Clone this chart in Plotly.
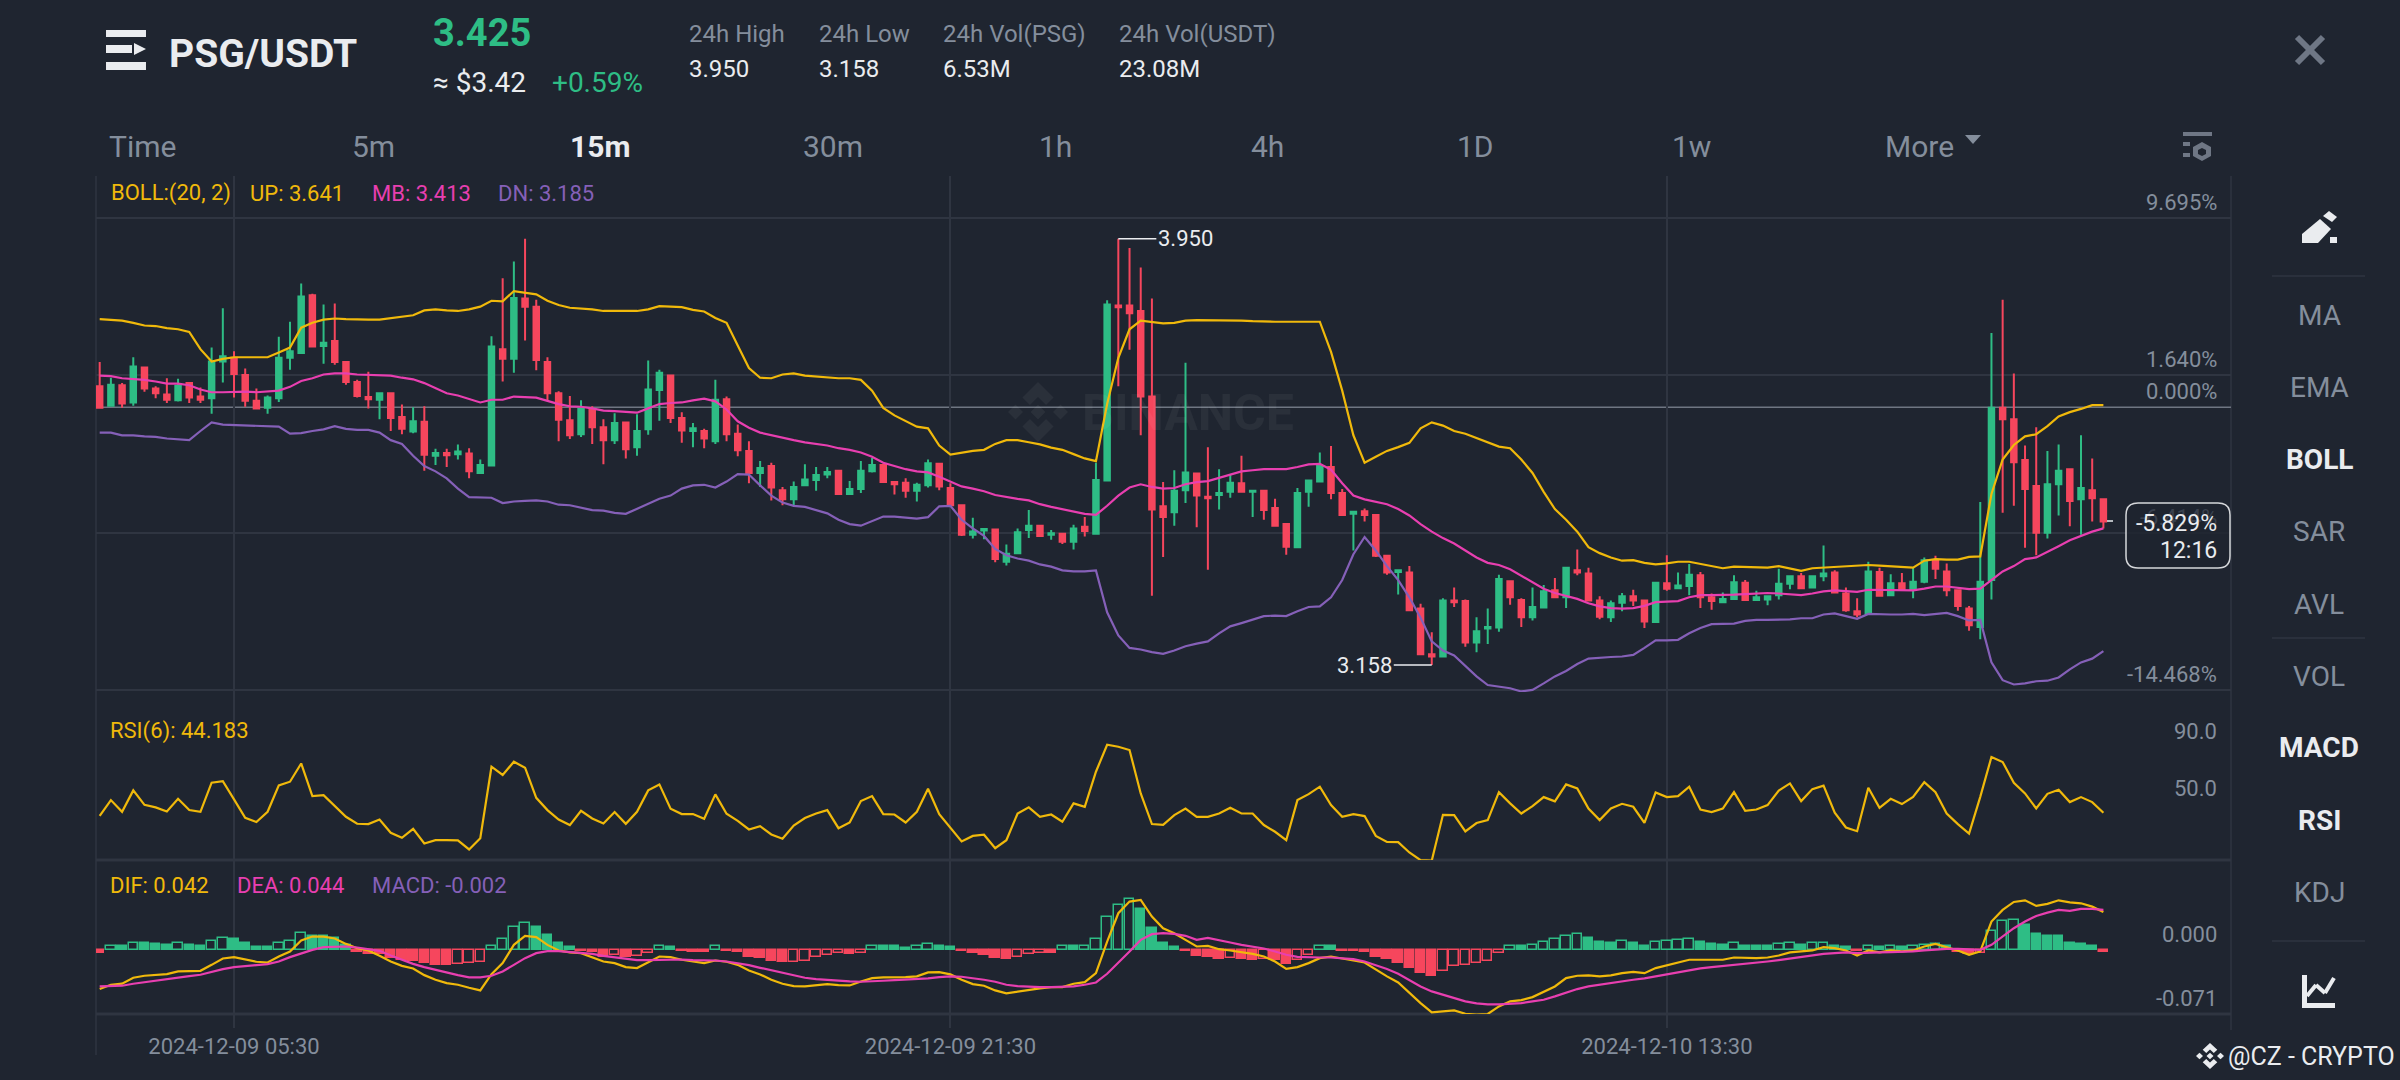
"""
PSG/USDT 15m chart screen, BOLL + RSI + MACD
"""

import pandas as pd
import plotly.graph_objects as go
from plotly.subplots import make_subplots

W, H = 2400, 1080
FONT = "Roboto"
BG = "#1f2530"
GRID = "#2f3541"
GRAY = "#848e9c"
WHITE = "#eaecef"
GREEN = "#2ebd85"
RED = "#f6465d"
YELLOW = "#f0b90b"
PINK = "#e83fb0"
PURPLE = "#8560b8"

##data
start_time = "2024-12-09 02:30"
n_candles = 180

open_px = [
    3.676,3.640,3.678,3.646,3.711,3.672,3.661,3.650,3.682,3.657,
    3.654,3.722,3.729,3.697,3.649,3.636,3.654,3.729,3.738,3.845,
    3.751,3.760,3.721,3.684,3.656,3.651,3.663,3.619,3.592,3.610,
    3.547,3.552,3.550,3.551,3.515,3.529,3.745,3.727,3.839,3.824,
    3.721,3.663,3.613,3.587,3.634,3.600,3.576,3.609,3.563,3.596,
    3.669,3.696,3.617,3.593,3.593,3.574,3.652,3.588,3.556,3.515,
    3.528,3.483,3.466,3.492,3.502,3.512,3.519,3.476,3.485,3.518,
    3.530,3.498,3.497,3.482,3.492,3.532,3.487,3.455,3.400,3.408,
    3.410,3.350,3.366,3.409,3.417,3.400,3.402,3.387,3.415,3.402,
    3.501,3.826,3.826,3.816,3.657,3.453,3.442,3.483,3.514,3.471,
    3.474,3.480,3.496,3.480,3.482,3.450,3.420,3.377,3.480,3.499,
    3.526,3.478,3.439,3.444,3.437,3.361,3.331,3.330,3.263,3.178,
    3.174,3.278,3.277,3.200,3.226,3.228,3.314,3.279,3.247,3.265,
    3.297,3.284,3.334,3.328,3.278,3.247,3.274,3.286,3.278,3.238,
    3.310,3.301,3.305,3.325,3.284,3.275,3.281,3.311,3.279,3.280,
    3.288,3.309,3.323,3.302,3.323,3.330,3.291,3.258,3.254,3.331,
    3.288,3.310,3.298,3.313,3.353,3.332,3.297,3.263,3.229,3.316,
    3.636,3.615,3.539,3.491,3.404,3.494,3.522,3.466,3.483,3.466,
]
high_px = [
    3.721,3.692,3.682,3.730,3.711,3.676,3.691,3.690,3.684,3.674,
    3.748,3.821,3.741,3.709,3.672,3.659,3.768,3.796,3.867,3.848,
    3.828,3.830,3.721,3.688,3.703,3.663,3.663,3.642,3.637,3.639,
    3.560,3.560,3.568,3.561,3.540,3.769,3.877,3.908,3.950,3.837,
    3.730,3.667,3.658,3.650,3.639,3.615,3.626,3.609,3.624,3.724,
    3.707,3.696,3.628,3.608,3.597,3.688,3.657,3.605,3.574,3.537,
    3.534,3.489,3.499,3.531,3.526,3.526,3.519,3.500,3.537,3.543,
    3.532,3.499,3.505,3.497,3.540,3.532,3.496,3.455,3.432,3.412,
    3.412,3.382,3.412,3.446,3.419,3.409,3.403,3.419,3.433,3.534,
    3.836,3.950,3.933,3.897,3.839,3.498,3.520,3.720,3.514,3.563,
    3.522,3.512,3.547,3.483,3.483,3.467,3.420,3.487,3.501,3.553,
    3.565,3.485,3.443,3.449,3.437,3.361,3.334,3.342,3.272,3.219,
    3.282,3.302,3.280,3.247,3.263,3.326,3.314,3.282,3.302,3.307,
    3.320,3.339,3.373,3.339,3.286,3.278,3.292,3.298,3.279,3.313,
    3.362,3.330,3.346,3.331,3.291,3.293,3.325,3.316,3.296,3.288,
    3.337,3.325,3.329,3.323,3.380,3.334,3.302,3.282,3.350,3.339,
    3.327,3.329,3.339,3.358,3.361,3.347,3.298,3.268,3.461,3.775,
    3.837,3.700,3.566,3.600,3.556,3.568,3.522,3.585,3.542,3.468,
]
low_px = [
    3.635,3.638,3.636,3.640,3.666,3.654,3.645,3.648,3.645,3.645,
    3.625,3.683,3.655,3.638,3.635,3.625,3.647,3.707,3.737,3.748,
    3.718,3.716,3.679,3.655,3.635,3.615,3.593,3.587,3.589,3.519,
    3.530,3.526,3.540,3.505,3.515,3.529,3.685,3.701,3.761,3.706,
    3.650,3.574,3.578,3.582,3.569,3.531,3.569,3.542,3.547,3.586,
    3.612,3.608,3.571,3.563,3.561,3.569,3.574,3.546,3.496,3.489,
    3.464,3.455,3.454,3.492,3.482,3.505,3.476,3.474,3.478,3.516,
    3.498,3.475,3.469,3.462,3.488,3.483,3.455,3.398,3.393,3.392,
    3.349,3.343,3.364,3.394,3.398,3.391,3.383,3.373,3.397,3.402,
    3.499,3.676,3.744,3.585,3.287,3.359,3.417,3.459,3.414,3.335,
    3.447,3.469,3.480,3.433,3.428,3.416,3.363,3.377,3.452,3.498,
    3.466,3.437,3.371,3.425,3.359,3.326,3.289,3.260,3.178,3.158,
    3.174,3.266,3.192,3.182,3.197,3.220,3.270,3.229,3.241,3.263,
    3.284,3.264,3.325,3.277,3.243,3.238,3.258,3.268,3.227,3.238,
    3.296,3.300,3.288,3.264,3.261,3.275,3.280,3.279,3.279,3.269,
    3.280,3.299,3.300,3.301,3.314,3.292,3.257,3.247,3.254,3.286,
    3.287,3.297,3.282,3.310,3.318,3.286,3.259,3.222,3.206,3.280,
    3.441,3.454,3.376,3.362,3.393,3.436,3.416,3.400,3.425,3.412,
]
close_px = [
    3.636,3.679,3.644,3.713,3.672,3.663,3.651,3.677,3.655,3.651,
    3.722,3.732,3.699,3.649,3.635,3.655,3.729,3.741,3.843,3.750,
    3.757,3.721,3.684,3.658,3.652,3.663,3.617,3.597,3.611,3.549,
    3.552,3.548,3.555,3.518,3.530,3.750,3.727,3.840,3.824,3.725,
    3.663,3.614,3.585,3.634,3.600,3.576,3.608,3.559,3.593,3.670,
    3.701,3.617,3.594,3.598,3.579,3.651,3.587,3.557,3.515,3.524,
    3.488,3.466,3.489,3.503,3.511,3.517,3.476,3.485,3.519,3.530,
    3.498,3.494,3.482,3.493,3.533,3.490,3.455,3.400,3.406,3.411,
    3.355,3.365,3.405,3.417,3.398,3.403,3.387,3.412,3.407,3.502,
    3.828,3.823,3.812,3.657,3.447,3.433,3.482,3.516,3.473,3.468,
    3.478,3.497,3.480,3.482,3.446,3.417,3.378,3.478,3.501,3.528,
    3.478,3.437,3.443,3.437,3.361,3.330,3.334,3.260,3.178,3.174,
    3.278,3.275,3.200,3.221,3.229,3.318,3.284,3.247,3.266,3.295,
    3.284,3.339,3.330,3.278,3.248,3.273,3.286,3.278,3.239,3.311,
    3.300,3.306,3.326,3.284,3.277,3.281,3.312,3.279,3.284,3.286,
    3.309,3.323,3.301,3.323,3.328,3.293,3.260,3.252,3.332,3.287,
    3.310,3.298,3.313,3.353,3.337,3.297,3.268,3.232,3.313,3.636,
    3.615,3.535,3.485,3.404,3.494,3.519,3.463,3.487,3.468,3.425,
]

boll_up = [
    3.801,3.800,3.798,3.794,3.789,3.788,3.784,3.782,3.777,3.745,
    3.722,3.727,3.730,3.730,3.730,3.730,3.739,3.748,3.785,3.794,
    3.800,3.802,3.801,3.800,3.800,3.800,3.803,3.806,3.808,3.817,
    3.819,3.817,3.816,3.819,3.824,3.835,3.834,3.853,3.850,3.847,
    3.835,3.827,3.822,3.821,3.819,3.816,3.816,3.816,3.816,3.819,
    3.825,3.824,3.823,3.818,3.815,3.803,3.794,3.752,3.710,3.692,
    3.691,3.698,3.700,3.696,3.694,3.692,3.691,3.691,3.688,3.668,
    3.636,3.622,3.611,3.601,3.598,3.566,3.549,3.553,3.556,3.558,
    3.569,3.576,3.576,3.572,3.568,3.562,3.558,3.550,3.542,3.537,
    3.643,3.729,3.782,3.798,3.795,3.793,3.794,3.798,3.799,3.799,
    3.798,3.798,3.798,3.797,3.796,3.796,3.796,3.796,3.796,3.796,
    3.740,3.668,3.585,3.534,3.545,3.556,3.563,3.571,3.598,3.609,
    3.603,3.593,3.588,3.580,3.571,3.564,3.561,3.540,3.515,3.480,
    3.448,3.428,3.406,3.377,3.366,3.358,3.352,3.353,3.348,3.345,
    3.347,3.350,3.350,3.346,3.342,3.338,3.341,3.340,3.339,3.339,
    3.342,3.338,3.333,3.338,3.339,3.340,3.342,3.342,3.344,3.343,
    3.342,3.341,3.339,3.352,3.355,3.354,3.354,3.359,3.360,3.476,
    3.540,3.567,3.583,3.587,3.602,3.620,3.628,3.634,3.641,3.641,
]
boll_mb = [
    3.696,3.695,3.691,3.690,3.688,3.685,3.681,3.681,3.678,3.670,
    3.665,3.665,3.666,3.666,3.665,3.666,3.668,3.675,3.686,3.691,
    3.698,3.700,3.700,3.698,3.697,3.697,3.696,3.692,3.689,3.682,
    3.672,3.663,3.659,3.652,3.646,3.651,3.651,3.657,3.656,3.655,
    3.649,3.643,3.639,3.638,3.635,3.631,3.630,3.629,3.627,3.635,
    3.643,3.645,3.646,3.650,3.653,3.648,3.633,3.611,3.599,3.590,
    3.585,3.580,3.576,3.572,3.569,3.566,3.561,3.558,3.553,3.545,
    3.534,3.528,3.522,3.518,3.516,3.508,3.499,3.490,3.486,3.481,
    3.474,3.470,3.467,3.464,3.457,3.452,3.448,3.444,3.439,3.437,
    3.454,3.473,3.488,3.494,3.489,3.486,3.487,3.494,3.498,3.500,
    3.506,3.513,3.518,3.520,3.522,3.522,3.522,3.526,3.531,3.532,
    3.521,3.496,3.473,3.466,3.462,3.457,3.448,3.436,3.420,3.406,
    3.394,3.384,3.371,3.358,3.348,3.344,3.336,3.324,3.312,3.300,
    3.292,3.286,3.281,3.273,3.267,3.264,3.263,3.264,3.268,3.275,
    3.276,3.277,3.284,3.288,3.288,3.288,3.289,3.290,3.291,3.292,
    3.291,3.290,3.288,3.291,3.295,3.297,3.295,3.294,3.298,3.298,
    3.297,3.297,3.297,3.300,3.304,3.304,3.302,3.299,3.300,3.316,
    3.332,3.342,3.355,3.358,3.368,3.379,3.390,3.398,3.406,3.412,
]
boll_dn = [
    3.590,3.590,3.585,3.585,3.583,3.582,3.579,3.578,3.576,3.593,
    3.609,3.605,3.604,3.603,3.602,3.601,3.601,3.588,3.589,3.593,
    3.596,3.602,3.597,3.595,3.595,3.590,3.576,3.569,3.547,3.528,
    3.518,3.505,3.486,3.470,3.469,3.469,3.459,3.462,3.463,3.464,
    3.462,3.456,3.455,3.450,3.446,3.445,3.441,3.439,3.448,3.458,
    3.467,3.473,3.486,3.492,3.493,3.488,3.499,3.513,3.512,3.492,
    3.473,3.460,3.454,3.452,3.446,3.440,3.428,3.420,3.417,3.425,
    3.434,3.434,3.432,3.430,3.433,3.453,3.454,3.428,3.412,3.398,
    3.374,3.362,3.356,3.352,3.345,3.341,3.334,3.332,3.332,3.334,
    3.256,3.213,3.190,3.187,3.182,3.179,3.185,3.193,3.198,3.202,
    3.217,3.230,3.236,3.243,3.249,3.250,3.249,3.258,3.266,3.267,
    3.284,3.316,3.364,3.396,3.371,3.342,3.316,3.284,3.246,3.202,
    3.185,3.176,3.156,3.137,3.121,3.118,3.115,3.109,3.112,3.124,
    3.137,3.147,3.160,3.170,3.172,3.173,3.174,3.177,3.190,3.204,
    3.204,3.205,3.217,3.227,3.234,3.234,3.235,3.240,3.242,3.242,
    3.242,3.243,3.245,3.245,3.252,3.254,3.249,3.244,3.253,3.252,
    3.252,3.252,3.253,3.251,3.253,3.255,3.249,3.241,3.242,3.163,
    3.130,3.122,3.124,3.128,3.129,3.135,3.150,3.163,3.170,3.184,
]

rsi_6 = [
    42.0,53.0,44.8,59.8,49.7,47.9,45.0,53.9,46.0,44.8,
    65.2,66.3,53.5,40.6,37.6,44.8,63.3,65.9,78.7,55.8,
    56.5,48.8,41.3,36.4,36.2,39.4,30.1,26.6,32.9,22.6,
    24.9,24.9,24.7,18.4,26.3,76.4,70.6,79.9,75.7,54.6,
    46.0,39.4,35.5,45.5,40.1,36.6,44.6,36.4,44.8,59.8,
    64.0,46.9,43.2,43.2,39.9,57.0,43.4,38.5,32.4,34.7,
    28.9,25.9,35.2,40.4,43.6,46.0,33.3,37.3,52.3,55.8,
    43.2,42.9,37.3,44.8,61.0,43.2,33.3,24.0,27.9,28.7,
    19.3,24.9,43.6,47.9,41.3,42.9,37.8,50.7,48.3,72.9,
    91.8,90.4,88.1,57.7,36.2,35.7,42.5,47.1,41.3,41.3,
    43.6,47.6,43.6,43.6,35.5,30.8,24.9,53.0,57.2,62.4,
    49.5,41.3,43.2,41.8,27.9,23.7,23.5,16.3,10.9,10.6,
    42.7,42.5,31.0,36.9,39.0,58.6,50.7,43.6,48.8,55.1,
    52.1,64.0,61.2,47.1,39.0,47.1,50.4,48.3,37.1,58.4,
    55.1,55.8,62.4,46.4,44.6,47.1,58.6,45.5,46.4,49.5,
    59.6,64.7,52.3,60.7,63.1,44.1,33.8,31.2,61.7,47.6,
    53.9,50.2,55.3,65.6,58.6,43.6,36.2,29.6,55.3,83.2,
    79.7,65.2,57.7,47.1,57.4,60.3,51.6,55.1,51.6,44.183,
]

macd_dif = [
    -.0434,-.0386,-.0375,-.0309,-.0287,-.0276,-.0269,-.0239,-.0232,-.0232,
    -.0166,-.0096,-.0081,-.0103,-.0132,-.0140,-.0074,-.0018,.0103,.0147,
    .0147,.0125,.0066,.0018,-.0007,-.0066,-.0129,-.0177,-.0206,-.0280,
    -.0331,-.0368,-.0386,-.0420,-.0449,-.0269,-.0147,.0055,.0155,.0140,
    .0055,-.0007,-.0029,-.0037,-.0081,-.0129,-.0147,-.0191,-.0202,-.0140,
    -.0074,-.0081,-.0110,-.0129,-.0147,-.0118,-.0132,-.0166,-.0228,-.0272,
    -.0331,-.0375,-.0401,-.0405,-.0394,-.0379,-.0390,-.0394,-.0350,-.0313,
    -.0305,-.0305,-.0302,-.0294,-.0250,-.0247,-.0272,-.0331,-.0379,-.0397,
    -.0449,-.0482,-.0464,-.0438,-.0427,-.0412,-.0412,-.0375,-.0357,-.0258,
    .0092,.0405,.0534,.0552,.0368,.0239,.0184,.0110,.0037,.0044,
    .0007,-.0007,-.0026,-.0044,-.0074,-.0129,-.0210,-.0191,-.0147,-.0092,
    -.0074,-.0099,-.0118,-.0140,-.0221,-.0294,-.0361,-.0478,-.0589,-.0692,
    -.0681,-.0670,-.0707,-.0718,-.0710,-.0626,-.0570,-.0556,-.0523,-.0460,
    -.0405,-.0313,-.0287,-.0283,-.0294,-.0283,-.0258,-.0243,-.0258,-.0202,
    -.0173,-.0147,-.0110,-.0110,-.0114,-.0110,-.0085,-.0092,-.0092,-.0085,
    -.0063,-.0029,-.0022,-.0007,.0029,.0018,-.0007,-.0063,-.0007,-.0029,
    -.0007,-.0018,-.0007,.0037,.0066,.0029,-.0007,-.0055,-.0018,.0313,
    .0442,.0530,.0548,.0486,.0508,.0548,.0526,.0515,.0478,.0420,
]
macd_dea = [
    -.0405,-.0397,-.0397,-.0375,-.0357,-.0339,-.0324,-.0305,-.0291,-.0276,
    -.0243,-.0213,-.0191,-.0177,-.0169,-.0158,-.0129,-.0081,-.0037,.0000,
    .0029,.0033,.0037,.0026,.0007,-.0011,-.0063,-.0110,-.0155,-.0191,
    -.0221,-.0258,-.0280,-.0305,-.0305,-.0287,-.0239,-.0166,-.0092,-.0037,
    -.0015,-.0015,-.0022,-.0029,-.0044,-.0066,-.0081,-.0096,-.0114,-.0114,
    -.0110,-.0107,-.0107,-.0114,-.0114,-.0118,-.0129,-.0147,-.0169,-.0199,
    -.0228,-.0258,-.0287,-.0309,-.0324,-.0335,-.0342,-.0350,-.0353,-.0350,
    -.0342,-.0335,-.0331,-.0328,-.0316,-.0302,-.0294,-.0298,-.0313,-.0331,
    -.0353,-.0386,-.0401,-.0408,-.0412,-.0412,-.0408,-.0405,-.0386,-.0361,
    -.0265,-.0147,-.0018,.0110,.0173,.0184,.0177,.0155,.0110,.0132,
    .0103,.0081,.0055,.0037,.0015,-.0018,-.0055,-.0077,-.0085,-.0085,
    -.0085,-.0092,-.0103,-.0129,-.0169,-.0213,-.0265,-.0331,-.0405,-.0460,
    -.0497,-.0534,-.0570,-.0592,-.0604,-.0604,-.0600,-.0589,-.0570,-.0552,
    -.0515,-.0471,-.0434,-.0405,-.0386,-.0364,-.0342,-.0331,-.0316,-.0294,
    -.0276,-.0250,-.0224,-.0206,-.0191,-.0180,-.0166,-.0151,-.0140,-.0129,
    -.0114,-.0096,-.0077,-.0059,-.0044,-.0037,-.0029,-.0037,-.0029,-.0029,
    -.0026,-.0026,-.0018,-.0007,.0004,.0011,.0011,.0004,.0000,.0055,
    .0147,.0239,.0313,.0375,.0412,.0442,.0431,.0453,.0453,.0442,
]
macd_hist = [
    -.0037,.0044,.0044,.0081,.0081,.0066,.0052,.0081,.0059,.0048,
    .0103,.0136,.0118,.0074,.0033,.0026,.0074,.0103,.0191,.0158,
    .0151,.0132,.0055,-.0029,-.0044,-.0044,-.0092,-.0110,-.0118,-.0147,
    -.0166,-.0169,-.0158,-.0147,-.0140,.0044,.0118,.0250,.0302,.0250,
    .0166,.0081,.0029,-.0018,-.0029,-.0074,-.0055,-.0081,-.0066,-.0037,
    .0048,.0026,-.0018,-.0022,-.0022,.0037,-.0018,-.0029,-.0074,-.0092,
    -.0121,-.0136,-.0132,-.0118,-.0074,-.0055,-.0037,-.0048,-.0037,.0037,
    .0037,.0037,.0018,.0044,.0066,.0044,.0026,-.0018,-.0037,-.0055,
    -.0092,-.0103,-.0074,-.0048,-.0037,-.0037,.0037,.0037,.0048,.0118,
    .0368,.0500,.0559,.0456,.0239,.0081,.0029,-.0018,-.0063,-.0081,
    -.0096,-.0085,-.0103,-.0107,-.0103,-.0110,-.0155,-.0110,-.0055,.0037,
    .0037,-.0018,-.0018,-.0026,-.0074,-.0103,-.0147,-.0202,-.0258,-.0294,
    -.0239,-.0177,-.0173,-.0147,-.0118,-.0037,.0037,.0037,.0055,.0092,
    .0118,.0158,.0173,.0136,.0092,.0081,.0099,.0074,.0044,.0092,
    .0103,.0110,.0121,.0085,.0063,.0052,.0081,.0044,.0037,.0037,
    .0066,.0074,.0055,.0074,.0081,.0048,.0026,-.0018,.0037,.0026,
    .0037,.0026,.0037,.0055,.0066,.0037,-.0029,-.0044,-.0037,.0213,
    .0324,.0331,.0272,.0173,.0158,.0151,.0081,.0066,.0037,-.0022,
]

for series in [open_px, high_px, low_px, close_px, boll_up, boll_mb, boll_dn,
               rsi_6, macd_dif, macd_dea, macd_hist]:
    assert len(series) == n_candles, len(series)

base_price = 3.637
pct_levels = [9.695, 1.640, -6.414, -14.468]
pct_labels = ["9.695%", "1.640%", "-6.414%", "-14.468%"]
rsi_levels = [90, 50]
rsi_labels = ["90.0", "50.0"]
macd_levels = [0.0, -0.071]
macd_labels = ["0.000", "-0.071"]
tick_times = ["2024-12-09 05:30", "2024-12-09 21:30", "2024-12-10 13:30"]

stats_head = ["24h High", "24h Low", "24h Vol(PSG)", "24h Vol(USDT)"]
stats_vals = ["3.950", "3.158", "6.53M", "23.08M"]
intervals = ["Time", "5m", "15m", "30m", "1h", "4h", "1D", "1w", "More"]
indicators = ["MA", "EMA", "BOLL", "SAR", "AVL", "VOL", "MACD", "RSI", "KDJ"]
active_tags = ["15m", "BOLL", "MACD", "RSI"]

times = pd.date_range(start_time, periods=n_candles, freq="15min")


##pixel helpers for the app chrome around the chart
def px(x):
    return x / W


def py(y):
    return 1 - y / H


def label(x, y, text, size=24, color=GRAY, anchor="left", bold=False, family=FONT):
    if bold:
        text = f"<b>{text}</b>"
    return dict(xref="paper", yref="paper", x=px(x), y=py(y), text=text, showarrow=False,
                xanchor=anchor, yanchor="middle", borderpad=0,
                font=dict(family=family, size=size, color=color))


def poly(points, color):
    path = "M" + " L".join(f"{px(a):.5f},{py(b):.5f}" for a, b in points) + " Z"
    return dict(type="path", xref="paper", yref="paper", path=path,
                fillcolor=color, line=dict(width=0), layer="above")


def rect(x0, y0, x1, y1, color):
    return poly([(x0, y0), (x1, y0), (x1, y1), (x0, y1)], color)


def seg(x0, y0, x1, y1, color=GRID, width=1.5, layer="below"):
    return dict(type="line", xref="paper", yref="paper", x0=px(x0), y0=py(y0), x1=px(x1), y1=py(y1),
                line=dict(color=color, width=width), layer=layer)


def logo(cx, cy, rx, ry, color):
    parts = [
        [(0, -.25), (.25, 0), (0, .25), (-.25, 0)],
        [(-1, 0), (-.75, -.25), (-.5, 0), (-.75, .25)],
        [(1, 0), (.75, -.25), (.5, 0), (.75, .25)],
        [(0, -1), (.52, -.48), (.27, -.23), (0, -.5), (-.27, -.23), (-.52, -.48)],
        [(0, 1), (.52, .48), (.27, .23), (0, .5), (-.27, .23), (-.52, .48)],
    ]
    return [poly([(cx + a * rx, cy + b * ry) for a, b in part], color) for part in parts]


##chart
fig = make_subplots(rows=3, cols=1, shared_xaxes=True, vertical_spacing=0)

fig.add_trace(go.Candlestick(
    x=times, open=open_px, high=high_px, low=low_px, close=close_px,
    increasing=dict(line=dict(color=GREEN, width=2), fillcolor=GREEN),
    decreasing=dict(line=dict(color=RED, width=2), fillcolor=RED),
    showlegend=False
), row=1, col=1)

for values, color in [(boll_up, YELLOW), (boll_mb, PINK), (boll_dn, PURPLE)]:
    fig.add_trace(go.Scatter(x=times, y=values, mode="lines", line=dict(color=color, width=2.2)), row=1, col=1)

fig.add_trace(go.Scatter(x=times, y=rsi_6, mode="lines", line=dict(color=YELLOW, width=2.2)), row=2, col=1)

#bars going up from the previous one are drawn hollow
bar_line = [GREEN if v >= 0 else RED for v in macd_hist]
bar_fill = [BG if i > 0 and v > macd_hist[i - 1] else c
            for i, (v, c) in enumerate(zip(macd_hist, bar_line))]
fig.add_trace(go.Bar(x=times, y=macd_hist, width=760000,
                     marker=dict(color=bar_fill, line=dict(color=bar_line, width=1.5))), row=3, col=1)
fig.add_trace(go.Scatter(x=times, y=macd_dif, mode="lines", line=dict(color=YELLOW, width=2.2)), row=3, col=1)
fig.add_trace(go.Scatter(x=times, y=macd_dea, mode="lines", line=dict(color=PINK, width=2.2)), row=3, col=1)

x_range = ["2024-12-09 02:25:03", "2024-12-11 02:06:00"]
x_style = dict(range=x_range, domain=[px(96), px(2231)], showgrid=True, gridcolor=GRID, gridwidth=1.5,
               zeroline=False, showline=False, tickmode="array", tickvals=tick_times,
               rangeslider=dict(visible=False))
fig.update_xaxes(**x_style)
fig.update_xaxes(ticktext=[t for t in tick_times], ticks="outside", ticklen=13, tickcolor=GRID, tickwidth=1.5,
                 tickfont=dict(family=FONT, size=22, color=GRAY), row=3, col=1)

price_ticks = [base_price * (1 + p / 100) for p in pct_levels]
fig.update_yaxes(domain=[py(692), py(176)], range=[3.1080, 4.0668], tickmode="array", tickvals=price_ticks,
                 showticklabels=False, showgrid=True, gridcolor=GRID, gridwidth=1.5, zeroline=False, row=1, col=1)
fig.update_yaxes(domain=[py(860), py(692)], range=[11.0, 128.8], showticklabels=False,
                 showgrid=False, zeroline=False, row=2, col=1)
fig.update_yaxes(domain=[py(1014), py(860)], range=[-0.071, 0.0994], showticklabels=False,
                 showgrid=False, zeroline=False, row=3, col=1)

##labels
notes = []
for price, text in zip(price_ticks, pct_labels):
    notes.append(dict(xref="paper", yref="y", x=px(2218), y=price, text=text, showarrow=False, xanchor="right",
                      yanchor="bottom", yshift=2, borderpad=0,
                      font=dict(family=FONT, size=22, color="#3a414e" if text == "-6.414%" else GRAY)))
notes.append(dict(xref="paper", yref="y", x=px(2218), y=base_price, text="0.000%", showarrow=False, xanchor="right",
                  yanchor="bottom", yshift=2, borderpad=0, font=dict(family=FONT, size=22, color=GRAY)))
for level, text in zip(rsi_levels, rsi_labels):
    notes.append(dict(xref="paper", yref="y2", x=px(2218), y=level, text=text, showarrow=False, xanchor="right",
                      yanchor="bottom", yshift=2, borderpad=0, font=dict(family=FONT, size=22, color=GRAY)))
for level, text in zip(macd_levels, macd_labels):
    notes.append(dict(xref="paper", yref="y3", x=px(2218), y=level, text=text, showarrow=False, xanchor="right",
                      yanchor="bottom", yshift=2, borderpad=0, font=dict(family=FONT, size=22, color=GRAY)))

#high and low markers
notes.append(dict(x=times[91], y=high_px[91], xref="x", yref="y", text="3.950", ax=38, ay=0, xanchor="left",
                  showarrow=True, arrowhead=0, arrowcolor=WHITE, arrowwidth=1.5, standoff=0, borderpad=1,
                  font=dict(family=FONT, size=22, color=WHITE)))
notes.append(dict(x=times[119], y=low_px[119], xref="x", yref="y", text="3.158", ax=-38, ay=0, xanchor="right",
                  showarrow=True, arrowhead=0, arrowcolor=WHITE, arrowwidth=1.5, standoff=0, borderpad=1,
                  font=dict(family=FONT, size=22, color=WHITE)))

#header
notes += [
    label(168, 54, "PSG/USDT", 39, WHITE, bold=True),
    label(432, 33, "3.425", 38, GREEN, bold=True),
    label(432, 82, "≈ $3.42", 28, WHITE),
    label(551, 82, "+0.59%", 28, GREEN),
    label(1157, 396, "", 10),
]
for x, head, val in zip([688, 818, 942, 1118], stats_head, stats_vals):
    notes.append(label(x, 34, head, 24, GRAY))
    notes.append(label(x, 69, val, 24, WHITE))

for x, tag in zip([142, 373, 600, 833, 1055, 1267, 1475, 1691, 1919], intervals):
    active = tag in active_tags
    notes.append(label(x, 147, tag, 30, WHITE if active else GRAY, anchor="center", bold=active))

for y, tag in zip([316, 387, 459, 531, 604, 676, 748, 820, 892], indicators):
    active = tag in active_tags
    notes.append(label(2319, y, tag, 28, WHITE if active else GRAY, anchor="center", bold=active))

#indicator legends
notes += [
    label(110, 193, "BOLL:(20, 2)", 22, YELLOW),
    label(249, 193, "UP: 3.641", 22, YELLOW),
    label(371, 193, "MB: 3.413", 22, PINK),
    label(497, 193, "DN: 3.185", 22, PURPLE),
    label(109, 731, "RSI(6): 44.183", 22, YELLOW),
    label(109, 885, "DIF: 0.042", 22, YELLOW),
    label(236, 885, "DEA: 0.044", 22, PINK),
    label(371, 885, "MACD: -0.002", 22, PURPLE),
]

#price box, watermark and credit
notes += [
    label(2218, 523, "-5.829%", 23, WHITE, anchor="right"),
    label(2218, 550, "12:16", 23, WHITE, anchor="right"),
    label(1081, 413, "BINANCE", 50, "rgba(255,255,255,0.05)", bold=True),
    label(2227, 1056, "@CZ - CRYPTO", 25, WHITE),
]

##shapes
box_x0, box_x1, box_y0, box_y1, r = 2126, 2230, 503, 568, 12
box_path = (f"M{px(box_x0 + r)},{py(box_y0)} L{px(box_x1 - r)},{py(box_y0)} "
            f"Q{px(box_x1)},{py(box_y0)} {px(box_x1)},{py(box_y0 + r)} L{px(box_x1)},{py(box_y1 - r)} "
            f"Q{px(box_x1)},{py(box_y1)} {px(box_x1 - r)},{py(box_y1)} L{px(box_x0 + r)},{py(box_y1)} "
            f"Q{px(box_x0)},{py(box_y1)} {px(box_x0)},{py(box_y1 - r)} L{px(box_x0)},{py(box_y0 + r)} "
            f"Q{px(box_x0)},{py(box_y0)} {px(box_x0 + r)},{py(box_y0)} Z")

shapes = [
    #frame and panel separators
    seg(96, 176, 96, 1055), seg(2231, 176, 2231, 1030),
    seg(96, 860, 2231, 860, width=3), seg(96, 1014, 2231, 1014, width=3),
    dict(type="line", xref="paper", yref="y", x0=px(96), x1=px(2231), y0=base_price, y1=base_price,
         line=dict(color="#6f7682", width=1.5), layer="below"),
    #last price box
    dict(type="path", xref="paper", yref="paper", path=box_path, fillcolor="rgba(31,37,48,0.82)",
         line=dict(color="#d5d7da", width=1.5), layer="above"),
    seg(2107, 521, 2113, 521, color=WHITE, layer="above"),
    #right column dividers
    seg(2272, 276, 2365, 276), seg(2272, 638, 2365, 638), seg(2272, 941, 2365, 941),
    #menu icon
    rect(106, 30, 146, 37, WHITE), rect(106, 45, 132, 53, WHITE),
    poly([(134, 43), (146, 49), (134, 55)], WHITE), rect(106, 62, 146, 70, WHITE),
    #close
    seg(2297, 37, 2323, 63, color="#6f7785", width=6, layer="above"),
    seg(2323, 37, 2297, 63, color="#6f7785", width=6, layer="above"),
    #more arrow
    poly([(1965, 135), (1981, 135), (1973, 144)], GRAY),
    #settings icon
    rect(2183, 132, 2212, 136, "#6f7785"), rect(2183, 142, 2190, 146, "#6f7785"), rect(2183, 153, 2190, 157, "#6f7785"),
    poly([(2202, 142), (2211, 147), (2211, 156), (2202, 161), (2193, 156), (2193, 147)], "#6f7785"),
    poly([(2202, 148), (2206, 150), (2206, 154), (2202, 156), (2198, 154), (2198, 150)], BG),
    #draw tool icon
    poly([(2302, 243), (2302, 234), (2320, 219), (2331, 229), (2318, 243)], WHITE),
    poly([(2323, 216), (2329, 211), (2337, 217), (2332, 222)], WHITE),
    rect(2330, 237, 2337, 243, WHITE),
    #chart icon
    rect(2302, 975, 2307, 1008, WHITE), rect(2302, 1003, 2335, 1008, WHITE),
    seg(2307, 996, 2316, 985, color=WHITE, width=4, layer="above"),
    seg(2316, 985, 2325, 993, color=WHITE, width=4, layer="above"),
    seg(2325, 993, 2334, 978, color=WHITE, width=4, layer="above"),
]
shapes += logo(1038, 412, 30, 30, "rgba(255,255,255,0.05)")
shapes += logo(2210, 1056, 14, 13, WHITE)

fig.update_layout(
    width=W, height=H, autosize=False,
    margin=dict(l=0, r=0, t=0, b=0),
    paper_bgcolor=BG, plot_bgcolor=BG,
    showlegend=False, hovermode=False, dragmode=False,
    bargap=0, annotations=notes, shapes=shapes,
)

fig.write_html("out.html", config=dict(displayModeBar=False),
               post_script="document.body.style.margin='0';document.body.style.background='%s';" % BG)
